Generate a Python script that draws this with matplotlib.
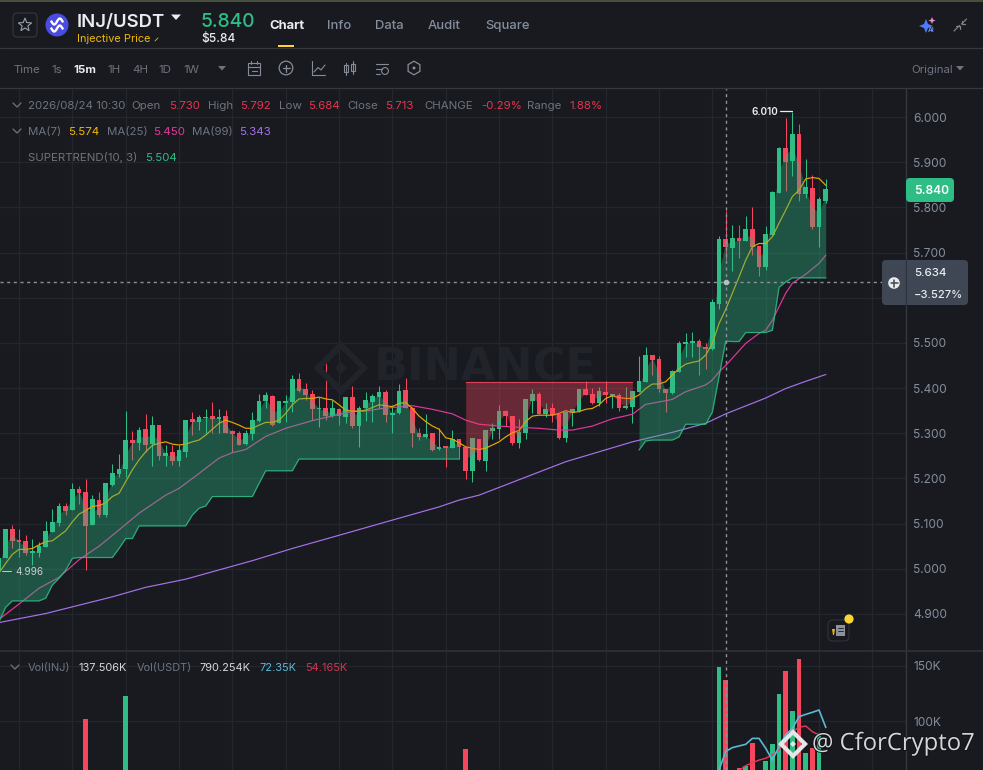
import numpy as np
import matplotlib
matplotlib.use("Agg")
import matplotlib.pyplot as plt
from matplotlib.patches import FancyBboxPatch, Circle, Polygon, Rectangle
import matplotlib.patheffects as pe

plt.rcParams['font.family'] = ['Inter', 'DejaVu Sans']

# ---------- data ----------
candle_idx = np.arange(-1, 124)
opens = [
 4.997,5.023,5.088,5.063,5.061,5.035,5.036,5.049,5.081,5.101,
 5.139,5.130,5.177,5.169,5.097,5.152,5.119,5.186,5.210,5.221,
 5.285,5.279,5.309,5.276,5.318,5.250,5.259,5.239,5.259,5.331,
 5.326,5.333,5.338,5.331,5.338,5.304,5.300,5.276,5.298,5.327,
 5.372,5.383,5.322,5.368,5.369,5.420,5.398,5.387,5.353,5.357,
 5.339,5.354,5.337,5.381,5.316,5.355,5.370,5.381,5.392,5.340,
 5.344,5.396,5.357,5.301,5.292,5.300,5.266,5.271,5.267,5.288,
 5.270,5.217,5.288,5.239,5.304,5.309,5.349,5.338,5.278,5.300,
 5.372,5.388,5.343,5.356,5.343,5.290,5.344,5.350,5.398,5.386,
 5.368,5.392,5.382,5.385,5.355,5.359,5.391,5.414,5.473,5.464,
 5.398,5.390,5.436,5.497,5.500,5.505,5.491,5.486,5.587,5.730,
 5.711,5.733,5.725,5.753,5.714,5.667,5.739,5.832,5.931,5.903,
 5.962,5.829,5.843,5.757,5.814]
highs = [
 5.025,5.088,5.097,5.088,5.075,5.065,5.060,5.106,5.132,5.146,
 5.146,5.191,5.183,5.198,5.163,5.171,5.191,5.233,5.254,5.350,
 5.305,5.313,5.343,5.339,5.318,5.274,5.274,5.274,5.329,5.346,
 5.341,5.353,5.370,5.353,5.352,5.307,5.305,5.307,5.346,5.387,
 5.391,5.385,5.372,5.385,5.429,5.433,5.411,5.396,5.381,5.462,
 5.374,5.355,5.380,5.405,5.361,5.392,5.388,5.405,5.396,5.362,
 5.409,5.423,5.359,5.311,5.343,5.301,5.311,5.271,5.307,5.288,
 5.270,5.290,5.288,5.307,5.323,5.362,5.351,5.338,5.331,5.375,
 5.399,5.392,5.368,5.366,5.343,5.350,5.353,5.397,5.416,5.401,
 5.403,5.416,5.387,5.390,5.403,5.394,5.470,5.492,5.473,5.471,
 5.399,5.440,5.505,5.521,5.525,5.508,5.499,5.597,5.736,5.792,
 5.761,5.761,5.781,5.800,5.714,5.759,5.837,5.934,5.997,6.010,
 5.984,5.906,5.872,5.824,5.863]
lows = [
 4.996,5.023,5.047,5.027,5.031,5.008,5.027,5.049,5.081,5.095,
 5.119,5.130,5.143,4.997,5.097,5.114,5.114,5.183,5.204,5.204,
 5.241,5.263,5.259,5.228,5.241,5.228,5.230,5.228,5.247,5.296,
 5.307,5.301,5.300,5.301,5.300,5.259,5.273,5.274,5.284,5.326,
 5.355,5.317,5.322,5.326,5.346,5.392,5.374,5.329,5.313,5.329,
 5.337,5.318,5.322,5.311,5.270,5.327,5.326,5.355,5.324,5.300,
 5.343,5.355,5.269,5.285,5.289,5.261,5.264,5.226,5.267,5.244,
 5.198,5.193,5.239,5.217,5.287,5.287,5.316,5.274,5.267,5.287,
 5.344,5.342,5.335,5.326,5.287,5.280,5.316,5.348,5.385,5.365,
 5.360,5.366,5.355,5.350,5.354,5.323,5.391,5.414,5.429,5.392,
 5.348,5.388,5.436,5.469,5.469,5.429,5.443,5.484,5.576,5.684,
 5.660,5.687,5.725,5.694,5.649,5.661,5.739,5.831,5.837,5.869,
 5.815,5.820,5.753,5.713,5.810]
closes = [
 5.025,5.088,5.062,5.059,5.034,5.039,5.050,5.084,5.103,5.139,
 5.129,5.177,5.167,5.095,5.154,5.119,5.189,5.212,5.221,5.285,
 5.279,5.307,5.274,5.318,5.250,5.257,5.239,5.263,5.329,5.326,
 5.337,5.337,5.332,5.337,5.301,5.298,5.274,5.301,5.329,5.372,
 5.385,5.318,5.372,5.372,5.420,5.394,5.385,5.354,5.357,5.339,
 5.355,5.338,5.380,5.315,5.357,5.374,5.382,5.392,5.340,5.345,
 5.394,5.355,5.301,5.292,5.298,5.264,5.269,5.267,5.287,5.269,
 5.217,5.290,5.241,5.307,5.312,5.350,5.338,5.278,5.302,5.375,
 5.388,5.343,5.354,5.340,5.289,5.346,5.353,5.397,5.385,5.368,
 5.393,5.385,5.387,5.355,5.361,5.394,5.416,5.473,5.463,5.397,
 5.390,5.438,5.500,5.503,5.504,5.491,5.487,5.590,5.730,5.713,
 5.733,5.726,5.753,5.713,5.669,5.742,5.835,5.931,5.901,5.962,
 5.829,5.844,5.757,5.818,5.840]
ma7 = [
 4.991,5.012,5.032,5.043,5.043,5.045,5.053,5.060,5.062,5.073,
 5.084,5.104,5.121,5.129,5.138,5.140,5.146,5.160,5.167,5.193,
 5.219,5.241,5.259,5.273,5.278,5.281,5.276,5.274,5.276,5.281,
 5.285,5.296,5.309,5.322,5.329,5.324,5.318,5.311,5.311,5.318,
 5.324,5.324,5.329,5.344,5.363,5.376,5.377,5.377,5.380,5.376,
 5.374,5.363,5.351,5.349,5.349,5.351,5.357,5.363,5.361,5.359,
 5.366,5.368,5.355,5.338,5.326,5.316,5.309,5.290,5.287,5.279,
 5.270,5.267,5.264,5.267,5.274,5.281,5.292,5.301,5.306,5.326,
 5.338,5.340,5.340,5.340,5.344,5.350,5.346,5.348,5.353,5.355,
 5.363,5.377,5.383,5.379,5.377,5.377,5.385,5.399,5.409,5.409,
 5.414,5.429,5.443,5.453,5.457,5.460,5.473,5.499,5.543,5.574,
 5.610,5.646,5.683,5.713,5.720,5.720,5.735,5.765,5.794,5.824,
 5.838,5.863,5.866,5.864,5.849]
ma25_idx = [-1,2,5,8,11,14,17,20,24,26,29,32,34,36,39,42,46,48,52,54,56,58,61,64,67,69,71,74,77,80,83,85,88,91,94,96,99,100,102,105,106,107,108,111,113,114,115,116,117,118,120,122,123]
ma25 = [4.888,4.922,4.957,4.981,5.020,5.050,5.086,5.123,5.163,5.178,5.211,5.245,5.257,5.264,5.293,5.311,5.328,5.335,5.348,5.349,5.354,5.357,5.361,5.353,5.343,5.329,5.320,5.316,5.313,5.311,5.307,5.307,5.316,5.332,5.342,5.364,5.372,5.375,5.392,5.407,5.418,5.436,5.450,5.499,5.521,5.528,5.550,5.580,5.610,5.632,5.652,5.676,5.694]
ma99_idx = [-1,6,16,21,27,37,43,49,59,65,68,71,84,94,100,105,108,114,117,120,123]
ma99 = [4.881,4.901,4.938,4.959,4.977,5.018,5.045,5.070,5.112,5.137,5.152,5.163,5.237,5.281,5.302,5.322,5.343,5.378,5.399,5.415,5.430]
st_up1_idx = np.arange(-1, 69)
st_up1 = [4.883,4.915,4.929,4.929,4.929,4.929,4.929,4.935,4.964,4.979,4.997,5.023] + [5.025]*6 + [5.045,5.067,5.067] + [5.095]*8 + [5.119,5.134,5.139] + [5.160]*7 + [5.189] + [5.217]*5 + [5.243]*25
st_down_idx = np.arange(69, 95)
st_down = [5.4135]*26
st_up2_idx = np.arange(95, 124)
st_up2 = [5.263,5.283,5.285,5.285,5.285,5.285,5.292,5.320,5.320,5.320,5.320,5.347,5.425,5.504,5.503,5.503,5.523,5.523,5.523,5.523,5.528,5.623,5.635,5.644,5.644,5.644,5.644,5.644,5.644]
vol_idx = [12,18,69,107,108,110,111,112,114,115,116,117,118,119,120,121,122]
vol_val = [101.8,122.7,75.0,148.8,137.5,57.5,59.0,79.7,63.6,79.0,125.0,145.7,109.0,156.0,70.6,75.2,88.8]
volma1_idx = list(range(107, 124))
volma1 = [55.5,72.35,75.8,77.3,78.8,84.2,84.2,75.2,64.5,76.7,87.3,93.3,103.9,106.0,107.9,110.0,94.3]
volma2_idx = list(range(110, 123))
volma2 = [54.8,59.4,62.1,64.5,66.1,69.1,73.6,82.7,90.3,94.3,95.5,90.3,87.3]
price_ticks = [4.9,5.0,5.1,5.2,5.3,5.4,5.5,5.6,5.7,5.8,5.9,6.0]
price_labels = ["4.900","5.000","5.100","5.200","5.300","5.400","5.500","","5.700","5.800","5.900","6.000"]
vol_ticks = [100, 150]
grid_x = list(range(2, 135, 8))
cross_k = 108
cross_price = 5.634
last_price = "5.840"

# ---------- colours ----------
BG = '#181A20'; GREEN = '#2EBD85'; RED = '#F6465D'; GRID = '#23262d'
SEP = '#343840'; MUTED = '#7b828d'; TICK = '#848E9C'; GOLD = '#F0B90B'
PINK = '#E0389C'; PURPLE = '#A772E8'; YEL = '#E8A800'; BLUE = '#5BB8D6'; RED2 = '#E8395A'
WMK = '#20232a'

W, H = 983, 770
fig = plt.figure(figsize=(W/100, H/100), dpi=100, facecolor=BG)

def panel(y0, y1):
    a = fig.add_axes([0, 1 - y1/H, 906/W, (y1 - y0)/H])
    a.patch.set_alpha(0)
    return a

ax = panel(88, 650)
axv = panel(651, 770)
xl = (-5.67/6.667, (906 - 5.67)/6.667)
for a in (ax, axv):
    a.set_xlim(*xl)
    for s in ('top', 'left', 'bottom'):
        a.spines[s].set_visible(False)
    a.spines['right'].set_color(SEP)
    a.spines['right'].set_linewidth(1)
    a.yaxis.tick_right()
    a.set_xticks(grid_x)
    a.tick_params(axis='x', length=0, labelbottom=False)
    a.tick_params(axis='y', length=0, pad=5.3, labelsize=8.6, labelcolor=TICK)
    a.grid(True, color=GRID, lw=0.9)
    a.set_axisbelow(True)

ax.set_ylim(6 - 533/451.8, 6 + 29/451.8)
ax.set_yticks(price_ticks)
ax.set_yticklabels(price_labels)
axv.set_ylim(100 - 49/55*50, 100 + 70/55*50)
axv.set_yticks(vol_ticks)
axv.set_yticklabels([f"{v}K" for v in vol_ticks])

# faint exchange watermark behind the chart
fig.text(374/W, 1 - 368/H, "BINANCE", color=WMK, fontsize=32, fontweight='bold',
         ha='left', va='center', zorder=0.5, family='DejaVu Sans')
lx, ly = 341, 368
fig.add_artist(Polygon([[lx/W, 1-(ly-23)/H], [(lx+23)/W, 1-ly/H], [lx/W, 1-(ly+23)/H], [(lx-23)/W, 1-ly/H]],
                       closed=True, transform=fig.transFigure, fc='none', ec=WMK, lw=4.5, zorder=0.5))
fig.add_artist(Polygon([[lx/W, 1-(ly-6)/H], [(lx+6)/W, 1-ly/H], [lx/W, 1-(ly+6)/H], [(lx-6)/W, 1-ly/H]],
                       closed=True, transform=fig.transFigure, fc=WMK, ec='none', zorder=0.5))

# moving averages
ax.plot(ma99_idx, ma99, color=PURPLE, lw=0.85, zorder=3)
ax.plot(ma25_idx, ma25, color=PINK, lw=0.85, zorder=3)
ax.plot(candle_idx, ma7, color=YEL, lw=0.85, zorder=3)

# candles
o = np.array(opens); h = np.array(highs); l = np.array(lows); c = np.array(closes)
cols = np.where(c >= o, GREEN, RED)
ax.vlines(candle_idx, l, h, colors=cols, lw=0.75, zorder=2)
ax.bar(candle_idx, np.abs(c - o), bottom=np.minimum(o, c), width=0.68, color=cols, lw=0, zorder=2)

# supertrend fills and lines
mid = (o + c)/2
def seg(idx, vals, col):
    idx = np.asarray(idx)
    m = mid[idx + 1]
    ax.fill_between(idx, vals, m, color=col, alpha=0.36, lw=0, zorder=4)
    ax.plot(idx, vals, color=col, lw=0.85, alpha=0.85, zorder=5)
seg(st_up1_idx, st_up1, GREEN)
seg(st_down_idx, st_down, RED)
seg(st_up2_idx, st_up2, GREEN)

# volume
vcols = [GREEN if closes[k + 1] >= opens[k + 1] else RED for k in vol_idx]
axv.bar(vol_idx, vol_val, width=0.68, color=vcols, lw=0, zorder=2)
axv.plot(volma2_idx, volma2, color=RED2, lw=1.0, zorder=3)
axv.plot(volma1_idx, volma1, color=BLUE, lw=1.2, zorder=3)

# crosshair
dash = (0, (2.2, 2.6))
for a in (ax, axv):
    a.axvline(cross_k, color='#8f9298', lw=1.0, ls=dash, zorder=6)
ax.axhline(cross_price, color='#8f9298', lw=1.0, ls=dash, zorder=6)
ax.plot([cross_k], [cross_price], 'o', ms=3.0, color='#b9bcc0', zorder=7)

# ---------- UI overlay in pixel coordinates ----------
ui = fig.add_axes([0, 0, 1, 1], facecolor='none', zorder=10)
ui.set_xlim(0, W); ui.set_ylim(H, 0); ui.axis('off')

def T(x, y, s, color=MUTED, px=11.5, weight='normal', ha='left', z=5):
    # y is the visual middle of digits and capitals, so descenders do not shift the line
    return ui.text(x, y + 0.36*px, s, color=color, fontsize=px*0.72, fontweight=weight,
                   ha=ha, va='baseline', zorder=z)

def L(xs, ys, color=MUTED, lw=1.0, z=4):
    ui.plot(xs, ys, color=color, lw=lw, solid_capstyle='round', zorder=z)

def RR(x0, y0, x1, y1, r, fc, ec='none', lw=0.8, z=2):
    ui.add_patch(FancyBboxPatch((x0 + r, y0 + r), x1 - x0 - 2*r, y1 - y0 - 2*r,
                                boxstyle=f"round,pad={r}", fc=fc, ec=ec, lw=lw, zorder=z))

# header backgrounds
ui.add_patch(Rectangle((0, 0), W, 88, fc=BG, ec='none', zorder=0))
ui.add_patch(Rectangle((0, 0), W, 1.6, fc='#464e3c', ec='none', zorder=1))
L([0, W], [47.5, 47.5], SEP, 0.9, 1)
L([0, W], [87.5, 87.5], SEP, 0.9, 1)
L([0, W], [650.5, 650.5], '#2c3038', 1.3, 1)

# star button
RR(13, 13, 37, 37, 4, 'none', '#33373f', 0.8)
ang = np.arange(10)*np.pi/5 - np.pi/2
rad = np.where(np.arange(10) % 2 == 0, 7, 3)
ui.add_patch(Polygon(np.c_[25 + rad*np.cos(ang), 25 + rad*np.sin(ang)], closed=True, fc='none', ec='#9aa0a8', lw=0.8, zorder=3))
# coin logo
ui.add_patch(Circle((57, 25), 11.5, fc='#4A4BE0', ec='none', zorder=2))
tt = np.linspace(-1, 1, 30)
ui.plot(57 + 5.5*tt, 21.5 - 3*np.sin(tt*3.1), color='white', lw=1.7, zorder=3)
ui.plot(57 + 5.5*tt, 28.5 - 3*np.sin(tt*3.1), color='white', lw=1.7, zorder=3)

T(77, 20, "INJ/USDT", '#EAECEF', 18.5, 'semibold')
ui.add_patch(Polygon([[171, 14.5], [181, 14.5], [176, 20]], fc='#EAECEF', ec='none', zorder=3))
T(77, 38.5, "Injective Price", GOLD, 11)
L([155, 158], [41, 38], GOLD, 0.6)
T(201, 20, "5.840", GREEN, 19.2, 'medium')
T(201, 37.5, "$5.84", '#EAECEF', 12, 'medium')
T(269, 24.5, "Chart", '#EAECEF', 13, 'bold')
for x, s in zip([327, 375, 428, 485], ["Info", "Data", "Audit", "Square"]):
    T(x, 24.5, s, TICK, 13, 'medium')
ui.add_patch(Rectangle((278, 44.5), 16, 2.6, fc='#FCD535', ec='none', zorder=3))

# AI sparkle and collapse arrows
sx, sy = 926, 26
ui.add_patch(Polygon([[sx, sy-7], [sx+2, sy-2], [sx+7, sy], [sx+2, sy+2], [sx, sy+7], [sx-2, sy+2], [sx-7, sy], [sx-2, sy-2]], fc='#4d7cf6', ec='none', zorder=3))
ui.add_patch(Polygon([[932, 17], [933, 19.5], [935.5, 20.5], [933, 21.5], [932, 24], [931, 21.5], [928.5, 20.5], [931, 19.5]], fc='#e88fd0', ec='none', zorder=3))
T(928, 30, "AI", '#6b8df5', 6.5, 'bold')
ac = '#7b828d'
L([954, 959.5], [31, 25.5], ac, 0.9); L([956, 959.5, 959.5], [25.5, 25.5, 29], ac, 0.9)
L([961.5, 966.5], [24, 19], ac, 0.9); L([961.5, 961.5, 965], [20.5, 24, 24], ac, 0.9)

# toolbar
for x, s in zip([14, 51, 107, 132, 158, 183], ["Time", "1s", "1H", "4H", "1D", "1W"]):
    T(x, 69, s, '#6d747f', 11.5)
T(73, 69, "15m", '#EAECEF', 11.5, 'bold')
ui.add_patch(Polygon([[218, 66], [226, 66], [222, 70.5]], fc='#6d747f', ec='none', zorder=3))
ic = '#858c97'
ui.add_patch(Rectangle((248, 63), 12, 12, fc='none', ec=ic, lw=0.8, zorder=3))
L([248, 260], [66.5, 66.5], ic, 0.8); L([251, 251], [61, 63.5], ic, 0.8); L([257, 257], [61, 63.5], ic, 0.8)
L([251.5, 257], [70.5, 70.5], ic, 0.8)
ui.add_patch(Circle((286, 68), 6.8, fc='none', ec=ic, lw=0.9, zorder=3))
L([282.5, 289.5], [68, 68], ic, 0.9); L([286, 286], [64.5, 71.5], ic, 0.9)
L([311.5, 311.5, 325], [61, 75, 75], ic, 0.8); L([314, 318, 321, 325], [72, 67.5, 70, 65], ic, 0.8)
for xc, y0, y1 in [(345.5, 65, 72), (353, 63.5, 71)]:
    ui.add_patch(Rectangle((xc - 2, y0), 4, y1 - y0, fc='none', ec=ic, lw=0.8, zorder=3))
    L([xc, xc], [y0 - 2.5, y1 + 2.5], ic, 0.8)
L([375.5, 388], [63.5, 63.5], ic, 0.8); L([376, 382], [68.5, 68.5], ic, 0.8); L([376, 380], [74, 74], ic, 0.8)
ui.add_patch(Circle((385, 71), 3.4, fc='none', ec=ic, lw=0.8, zorder=3))
th = np.arange(6)*np.pi/3 + np.pi/6
ui.add_patch(Polygon(np.c_[414 + 6.8*np.cos(th), 68 + 6.8*np.sin(th)], fc='none', ec=ic, lw=0.9, zorder=3))
ui.add_patch(Circle((414, 68), 1.5, fc=ic, ec='none', zorder=3))
T(911, 69, "Original", '#6d747f', 11.5)
ui.add_patch(Polygon([[956, 66], [964, 66], [960, 70.5]], fc='#6d747f', ec='none', zorder=3))

# chart legend rows
def chev(y, x=17):
    L([x - 4, x, x + 4], [y - 2, y + 2, y - 2], '#6d747f', 0.9)
chev(105); chev(131); chev(667, 15)
Y = 105
T(28, Y, "2026/08/24 10:30", '#6d747f')
for x, s in zip([131, 208, 279, 347, 424, 527], ["Open", "High", "Low", "Close", "CHANGE", "Range"]):
    T(x, Y, s, '#6d747f')
for x, s in zip([169, 240, 308, 385, 481, 569], ["5.730", "5.792", "5.684", "5.713", "-0.29%", "1.88%"]):
    T(x, Y, s, '#E8344E')
for x, s in zip([28, 107, 192], ["MA(7)", "MA(25)", "MA(99)"]):
    T(x, 131, s, '#6d747f')
T(68, 131, "5.574", GOLD); T(153, 131, "5.450", PINK); T(239, 131, "5.343", PURPLE)
T(28, 157, "SUPERTREND(10, 3)", '#6d747f'); T(145, 157, "5.504", GREEN)
T(28, 667, "Vol(INJ)", '#6d747f', 11); T(78, 667, "137.506K", '#D5D8DC', 11)
T(137, 667, "Vol(USDT)", '#6d747f', 11); T(199, 667, "790.254K", '#D5D8DC', 11)
T(259, 667, "72.35K", BLUE, 11); T(305, 667, "54.165K", '#D43550', 11)

# extremes labels
T(752, 111, "6.010", '#EAECEF', 10, 'semibold')
L([780, 792], [111, 111], '#EAECEF', 0.9)
T(15, 571, "4.996", '#c8ccd1', 10)
L([2, 11], [571, 571], '#c8ccd1', 0.7)

# price tag and crosshair box
RR(906, 178, 954, 202, 4, GREEN)
T(914.5, 190, last_price, 'white', 12, 'semibold')
RR(882, 260, 968, 305, 4, '#3E4753')
L([905.5, 905.5], [260, 305], '#2c333c', 0.8, 3)
ui.add_patch(Circle((894, 283), 5.8, fc='#EAECEF', ec='none', zorder=4))
L([890.5, 897.5], [283, 283], '#3E4753', 1.1, 5); L([894, 894], [279.5, 286.5], '#3E4753', 1.1, 5)
T(914, 272, "5.634", '#EAECEF', 11.5, 'medium')
T(914, 294, "\u22123.527%", '#EAECEF', 11.2, 'medium')

# news button
RR(828, 620, 849, 641, 5, BG, '#2f333b', 0.8)
ui.add_patch(Rectangle((836, 625), 9, 11, fc='#8d939c', ec='none', zorder=3))
L([838, 843], [628, 628], BG, 0.6); L([838, 843], [631, 631], BG, 0.6)
ui.add_patch(Polygon([[832, 629], [835, 629], [834, 635], [833, 635]], fc=GOLD, ec='none', zorder=3))
ui.add_patch(Circle((849, 619), 4.6, fc='#FCD535', ec='none', zorder=4))

# author watermark
cx, cy = 793, 744
ui.add_patch(Polygon([[cx, cy-12], [cx+12, cy], [cx, cy+12], [cx-12, cy]], fc='none', ec='#E4E6E8', lw=3, zorder=6, joinstyle='miter'))
ui.add_patch(Polygon([[cx, cy-3], [cx+3, cy], [cx, cy+3], [cx-3, cy]], fc='#E4E6E8', ec='none', zorder=6))
for dx in (-12, 12):
    ui.add_patch(Polygon([[cx+dx, cy-2.5], [cx+dx+2.5, cy], [cx+dx, cy+2.5], [cx+dx-2.5, cy]], fc='#E4E6E8', ec='none', zorder=6))
wm = ui.text(812, 744, "@ CforCrypto7", color='#D3D6D8', fontsize=17.2, ha='left', va='center', zorder=6,
             family=['Open Sans', 'DejaVu Sans'])
wm.set_path_effects([pe.withStroke(linewidth=1.2, foreground='#0f1014')])

fig.savefig('out.png', dpi=100, facecolor=BG)
